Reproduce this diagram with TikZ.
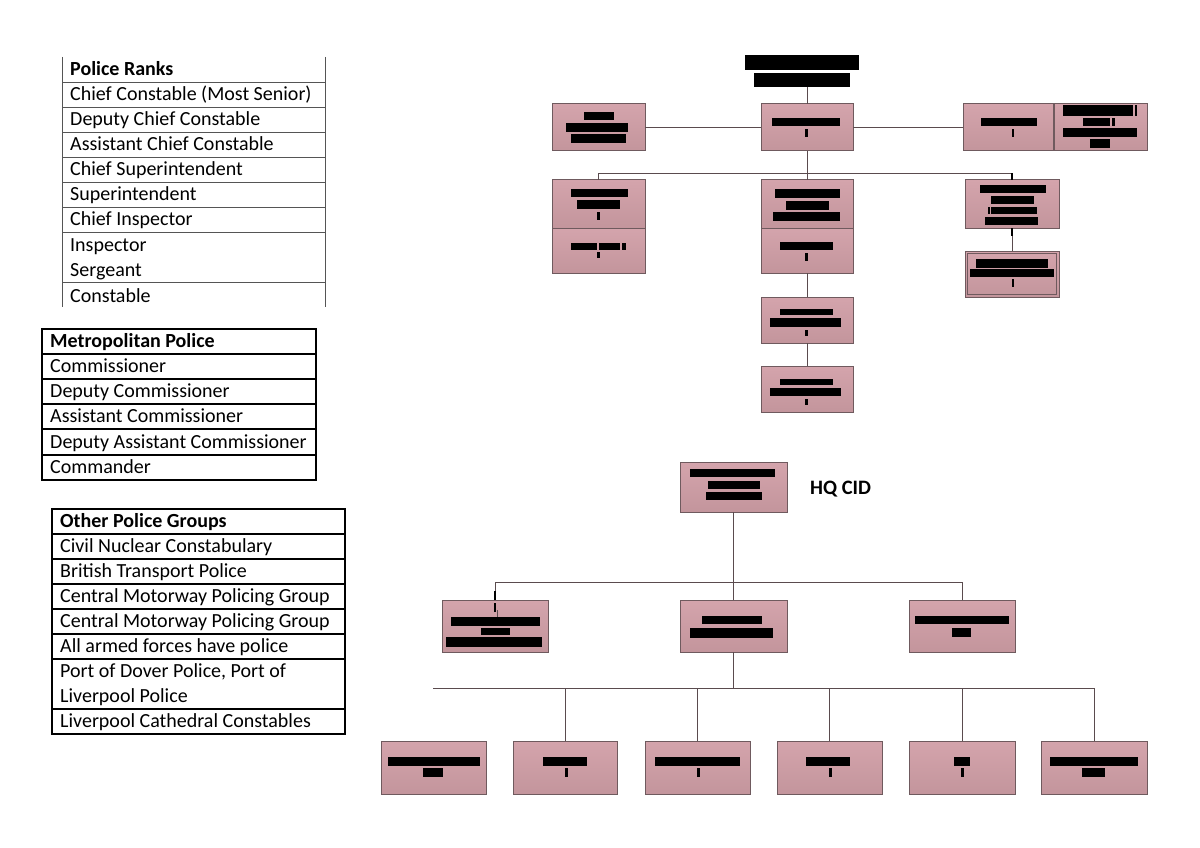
\documentclass[tikz,border=0pt]{standalone}
\usepackage{fontspec}
\setmainfont{Carlito}
\definecolor{pinktop}{HTML}{D4A4AC}
\definecolor{pinkbot}{HTML}{C3959C}
\definecolor{boxedge}{HTML}{6F5A5E}
\definecolor{connc}{HTML}{5A4B4E}
\definecolor{tgray}{HTML}{555555}
\newcommand\rb[4]{\fill[black] (#1,#2) rectangle (#3,#4);}
\newcommand\pb[5]{\node[pbox, minimum width=#4pt, minimum height=#5pt] (#1) at (#2,#3) {};}
\begin{document}
\begin{tikzpicture}[x=1pt,y=-1pt,
  pbox/.style={draw=boxedge, line width=1pt, top color=pinktop, bottom color=pinkbot, inner sep=0pt, outer sep=0pt},
  conn/.style={draw=connc, line width=0.9pt},
  thickconn/.style={draw=black, line width=1.8pt},
  rowtext/.style={anchor=base west, inner sep=0pt, font=\fontsize{20}{22}\selectfont},
  headtext/.style={rowtext, font=\fontsize{20}{22}\selectfont\bfseries},
  tline/.style={draw=tgray, line width=0.8pt},
  mline/.style={draw=black, line width=1.4pt}]
\useasboundingbox[fill=white] (0,0) rectangle (1200,848);

% ---------- Police Ranks table ----------
\draw[tline] (62,57) -- (62,307);
\draw[tline] (325,57) -- (325,307);
\foreach \yy in {82,107,132,157,182,207,232,282} \draw[tline] (62,\yy) -- (325,\yy);
\node[headtext] (pr0) at (70,75.5) {Police Ranks};
\node[rowtext] (pr1) at (70,100.5) {Chief Constable (Most Senior)};
\node[rowtext] (pr2) at (70,125.5) {Deputy Chief Constable};
\node[rowtext] (pr3) at (70,150.5) {Assistant Chief Constable};
\node[rowtext] (pr4) at (70,175.5) {Chief Superintendent};
\node[rowtext] (pr5) at (70,200.5) {Superintendent};
\node[rowtext] (pr6) at (70,225.5) {Chief Inspector};
\node[rowtext] (pr7) at (70,251) {Inspector};
\node[rowtext] (pr8) at (70,276) {Sergeant};
\node[rowtext] (pr9) at (70,302) {Constable};

% ---------- Metropolitan Police table ----------
\draw[mline] (42,329) rectangle (316,480);
\foreach \yy in {354,379,404,429,455} \draw[mline] (42,\yy) -- (316,\yy);
\node[headtext] (mp0) at (50,347.5) {Metropolitan Police};
\node[rowtext] (mp1) at (50,372.5) {Commissioner};
\node[rowtext] (mp2) at (50,397.5) {Deputy Commissioner};
\node[rowtext] (mp3) at (50,422.5) {Assistant Commissioner};
\node[rowtext] (mp4) at (50,448) {Deputy Assistant Commissioner};
\node[rowtext] (mp5) at (50,473.5) {Commander};

% ---------- Other Police Groups table ----------
\draw[mline] (52,509) rectangle (345,734);
\foreach \yy in {534,559,584,609,634,659,709} \draw[mline] (52,\yy) -- (345,\yy);
\node[headtext] (og0) at (60,527.5) {Other Police Groups};
\node[rowtext] (og1) at (60,552.5) {Civil Nuclear Constabulary};
\node[rowtext] (og2) at (60,577.5) {British Transport Police};
\node[rowtext] (og3) at (60,602.5) {Central Motorway Policing Group};
\node[rowtext] (og4) at (60,627.5) {Central Motorway Policing Group};
\node[rowtext] (og5) at (60,652.5) {All armed forces have police};
\node[rowtext] (og6) at (60,677.5) {Port of Dover Police, Port of};
\node[rowtext] (og7) at (60,702.5) {Liverpool Police};
\node[rowtext] (og8) at (60,727.5) {Liverpool Cathedral Constables};

% ---------- Top chart boxes ----------
\node[inner sep=0pt, minimum width=114pt, minimum height=32pt] (title) at (802,71) {};
\pb{l1}{598.5}{127.5}{93}{47}
\pb{c1}{807}{127.5}{92}{47}
\pb{r1a}{1008}{127.5}{90}{47}
\pb{r1b}{1100.5}{127.5}{93}{47}
\pb{l2a}{598.5}{204}{93}{48}
\pb{l2b}{598.5}{250.5}{93}{45}
\pb{c2a}{807}{204}{92}{48}
\pb{c2b}{807}{250.5}{92}{45}
\pb{r2a}{1012}{204}{94}{48}
\pb{r2b}{1012}{274}{94}{46}
\draw[boxedge, line width=0.7pt] ([shift={(2.5,-2.5)}]r2b.south west) rectangle ([shift={(-2.5,2.5)}]r2b.north east);
\pb{c3}{807}{320}{92}{46}
\pb{c4}{807}{389}{92}{46}

% ---------- Top chart connectors ----------
\coordinate (j1) at (807,173);
\draw[conn] (c1.north) -- (c1.north |- title.south);
\draw[conn] (l1.east) -- (c1.west);
\draw[conn] (c1.east) -- (r1a.west);
\draw[conn] (c1.south) -- (j1);
\draw[conn] (j1) -- (c2a.north);
\draw[conn] (l2a.north) |- (j1);
\draw[conn] (r2a.north) |- (j1);
\draw[thickconn] (r2a.north) -- ++(0,-7);
\draw[conn] (r2a.south) -- (r2b.north);
\draw[thickconn] (r2a.south) -- ++(0,8);
\draw[conn] (c2b.south) -- (c3.north);
\draw[conn] (c3.south) -- (c4.north);

% ---------- Top chart redaction bars ----------
\rb{745}{55}{859}{70}
\rb{754}{73}{850}{87}
% l1
\rb{584}{112}{614}{120}
\rb{566}{123}{628}{132}
\rb{571}{134}{626}{143}
% c1
\rb{772}{118}{840}{126}
\rb{805}{129}{807.5}{137}
% r1a
\rb{981}{118}{1037}{126}
\rb{1011.5}{129}{1014}{137}
% r1b
\rb{1063}{105}{1133}{116}
\rb{1134.5}{105}{1137}{116}
\rb{1083}{118}{1110}{126}
\rb{1112}{118}{1114.5}{126}
\rb{1063}{128}{1137}{137}
\rb{1090}{139}{1110}{148}
% l2a
\rb{571}{189}{628}{197}
\rb{577}{200}{620}{209}
\rb{597}{212}{599.5}{220}
% l2b
\rb{571}{243}{597}{250}
\rb{598.5}{243}{620}{250}
\rb{621.5}{243}{626}{250}
\rb{597}{252}{599.5}{258}
% c2a
\rb{775}{189}{840}{198}
\rb{786}{201}{829}{210}
\rb{773}{212}{840}{221}
% c2b
\rb{780}{242}{833}{250}
\rb{805}{253}{807.5}{261}
% r2a
\rb{980}{185}{1046}{193}
\rb{991}{196}{1034}{204}
\rb{988}{207}{989.5}{214}
\rb{991}{207}{1037}{214}
\rb{985}{217}{1038}{225}
% r2b
\rb{976}{259}{1048}{268}
\rb{970}{268.8}{1054}{277}
\rb{1011.5}{279}{1014}{287}
% c3
\rb{780}{309}{833}{315}
\rb{770}{318}{841}{327}
\rb{805}{330}{807.5}{336}
% c4
\rb{780}{379}{833}{385}
\rb{770}{388}{841}{396}
\rb{805}{399}{807.5}{405}

% ---------- Bottom chart boxes ----------
\pb{hq}{733.5}{487}{107}{50}
\node[anchor=base west, inner sep=0pt, font=\fontsize{20.5}{22}\selectfont\bfseries] (hqlabel) at (810,494) {HQ CID};
\pb{m1}{495}{626}{106}{52}
\pb{m2}{733.5}{626}{107}{52}
\pb{m3}{962}{626}{106}{52}
\pb{b1}{433.5}{767.5}{105}{53}
\pb{b2}{565}{767.5}{104}{53}
\pb{b3}{697.5}{767.5}{105}{53}
\pb{b4}{829.5}{767.5}{105}{53}
\pb{b5}{962}{767.5}{106}{53}
\pb{b6}{1094}{767.5}{106}{53}

% ---------- Bottom chart connectors ----------
\coordinate (j2) at (733.5,582);
\coordinate (j3) at (733.5,688);
\coordinate (hl) at (433,688);
\draw[conn] (hq.south) -- (j2);
\draw[conn] (j2) -- (m2.north);
\draw[conn] (m1.north) |- (j2);
\draw[conn] (m3.north) |- (j2);
\draw[thickconn] (m1.north) -- ++(0,-9);
\draw[thickconn] ([yshift=-12pt]m1.north) -- ++(0,-9);
\draw[conn, line width=0.5pt] ([xshift=2pt,yshift=-18pt]m1.north) -- ++(0,-8);
\draw[conn] (m2.south) -- (j3);
\draw[conn] (hl) -- (j3);
\draw[conn] (b2.north) |- (j3);
\draw[conn] (b3.north) |- (j3);
\draw[conn] (b4.north) |- (j3);
\draw[conn] (b5.north) |- (j3);
\draw[conn] (b6.north) |- (j3);

% ---------- Bottom chart redaction bars ----------
% hq
\rb{690}{469}{775}{477}
\rb{708}{481}{760}{489}
\rb{706}{492}{762}{500}
% m1
\rb{451}{617}{540}{626}
\rb{481}{628}{510}{635}
\rb{446}{637}{542}{647}
% m2
\rb{702}{616}{762}{624}
\rb{690}{628}{773}{638}
% m3
\rb{915}{616}{1009}{624}
\rb{952}{628}{971}{637}
% bottom row
\rb{388}{757}{480}{766}
\rb{423}{768}{443}{777}
\rb{543}{757}{587}{766}
\rb{565}{768}{567.5}{777}
\rb{655}{757}{740}{766}
\rb{697}{768}{699.5}{777}
\rb{806}{757}{850}{766}
\rb{829}{768}{831.5}{777}
\rb{954}{757}{970}{766}
\rb{961}{768}{963.5}{777}
\rb{1050}{757}{1138}{766}
\rb{1082}{768}{1105}{777}
\end{tikzpicture}
\end{document}
